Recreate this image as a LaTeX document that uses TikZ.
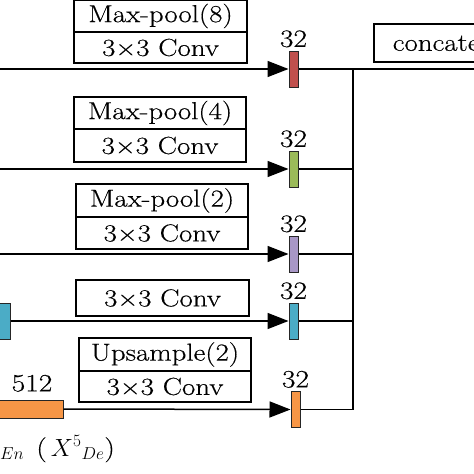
\documentclass[tikz,border=0pt]{standalone}
\usepackage{fontspec}
\setmainfont{Latin Modern Roman}[FakeStretch=1.18,FakeBold=0.4]
\usetikzlibrary{arrows.meta}
\definecolor{cred}{HTML}{C0504D}
\definecolor{cgreen}{HTML}{9BBB59}
\definecolor{cpurple}{HTML}{A897C6}
\definecolor{cblue}{HTML}{4BACC6}
\definecolor{corange}{HTML}{F79646}
\begin{document}
\begin{tikzpicture}[x=1pt,y=-1pt,
  row/.style={draw, line width=1.6pt, inner sep=0pt, minimum width=#1, font=\fontsize{24.5}{24.5}\selectfont},
  bar/.style={draw=black!85, line width=1pt, fill=#1, inner sep=0pt, minimum width=9pt, minimum height=36pt},
  lab/.style={inner sep=0pt, anchor=south, font=\fontsize{25}{25}\selectfont},
  conn/.style={line width=1.5pt},
  arr/.style={conn, -{Triangle[length=21pt,width=16pt]}}]
\useasboundingbox (0,0) rectangle (474,474);
\clip (0,0) rectangle (474,474);
% boxes
\node[row=173pt, minimum height=32pt] (b1a) at (160.5,16) {Max-pool(8)};
\node[row=173pt, minimum height=31pt] (b1b) at (160.5,47.5) {3×3 Conv};
\node[row=172pt, minimum height=32pt] (b2a) at (160,113) {Max-pool(4)};
\node[row=172pt, minimum height=33pt] (b2b) at (160,145.5) {3×3 Conv};
\node[row=172pt, minimum height=33pt] (b3a) at (162,200.5) {Max-pool(2)};
\node[row=172pt, minimum height=32pt] (b3b) at (162,233) {3×3 Conv};
\node[row=173pt, minimum height=36pt] (b4) at (162.5,298) {3×3 Conv};
\node[row=172pt, minimum height=33pt] (b5a) at (165,354.5) {Upsample(2)};
\node[row=172pt, minimum height=31pt] (b5b) at (165,386.5) {3×3 Conv};
\node[draw, line width=1.6pt, anchor=west, inner xsep=19pt, inner ysep=0pt, minimum height=38pt,
  font=\fontsize{24.5}{24.5}\selectfont] (cat) at (373,43) {concatenation};
% bars
\node[bar=cred] (r1) at (293.5,69) {};
\node[bar=cgreen] (r2) at (293.5,169) {};
\node[bar=cpurple] (r3) at (293.5,254) {};
\node[bar=cblue] (r4) at (293.5,321) {};
\node[bar=corange] (r5) at (295.5,409.5) {};
\node[bar=cblue, minimum width=11pt] (l4) at (4.5,321) {};
\node[bar=corange, minimum width=64pt, minimum height=18pt] (l5) at (31,409) {};
% labels
\foreach \r in {r1,r2,r3,r4,r5}
  \node[lab] at ([yshift=3pt]\r.north) {32};
\node[lab] (n512) at (32,392) {512};
\node[anchor=base west, inner sep=0pt, font=\fontsize{25}{25}\selectfont] (cap) at (0,456)
  {$_{En}$\hspace{12pt}(\,$X^{5}{}_{De}$)};
% connectors
\coordinate (s1) at (0,69);
\coordinate (s2) at (0,169);
\coordinate (s3) at (0,254);
\coordinate (j1) at (353,69);
\coordinate (e1) at (474,69);
\draw[arr] (s1) -- (r1.west);
\draw[arr] (s2) -- (r2.west);
\draw[arr] (s3) -- (r3.west);
\draw[arr] (l4.east) -- (r4.west);
\draw[arr] (l5.east) -- (r5.west);
\draw[conn] (r1.east) -- (e1);
\draw[conn] (r2.east) -- (r2.east -| j1);
\draw[conn] (r3.east) -- (r3.east -| j1);
\draw[conn] (r4.east) -- (r4.east -| j1);
\draw[conn] (r5.east) -- (r5.east -| j1) -- (j1);
\end{tikzpicture}
\end{document}
